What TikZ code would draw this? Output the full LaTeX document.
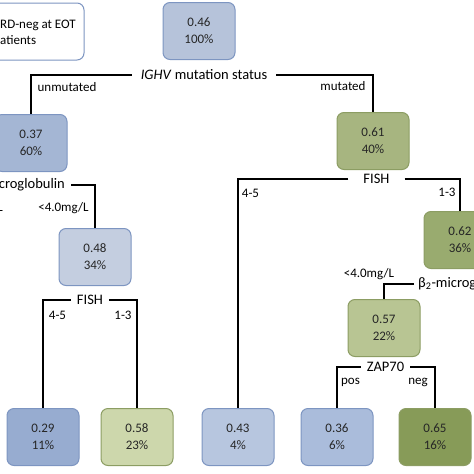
\documentclass[tikz,border=0pt]{standalone}
\usepackage{fontspec}
\setmainfont{Carlito}
\usetikzlibrary{positioning}
\definecolor{treeblue}{HTML}{7D95C1}
\definecolor{treegreen}{HTML}{8C9D63}
\definecolor{bluefa}{HTML}{B6C3DA}
\definecolor{bluefb}{HTML}{A4B6D4}
\definecolor{bluefc}{HTML}{C4CEE0}
\definecolor{bluefd}{HTML}{97ACD0}
\definecolor{bluefe}{HTML}{B7C6DF}
\definecolor{blueff}{HTML}{AABCDB}
\definecolor{greenfa}{HTML}{A7B580}
\definecolor{greenfb}{HTML}{99AB6F}
\definecolor{greenfc}{HTML}{B8C593}
\definecolor{greenfd}{HTML}{CDD7AC}
\definecolor{greenfe}{HTML}{879B58}

\begin{document}
\begin{tikzpicture}[
    x=1pt, y=-1pt,
    leaf/.style={rectangle, rounded corners=7pt, minimum width=72pt,
                 minimum height=57pt, align=center, text=black!85,
                 font=\fontsize{13}{17}\selectfont, line width=1pt, draw},
    split/.style={font=\fontsize{14.5}{17}\selectfont, inner xsep=6pt,
                  inner ysep=2pt},
    lbl/.style={font=\fontsize{13}{15}\selectfont, inner sep=0pt},
    branch/.style={line width=2.8pt}
  ]

  % ---- Frame ----
  \useasboundingbox (0,0) rectangle (474,474);
  \clip (0,0) rectangle (474,474);

  % ---- Legend (cut at the left edge) ----
  \node[rectangle, rounded corners=7pt, draw=treeblue, fill=white,
        line width=1pt, minimum width=144pt, minimum height=57pt]
    (legend) at (12,31.5) {};
  \node[anchor=west, align=left, inner sep=0pt,
        font=\fontsize{13}{16}\selectfont] (legendtxt) at (0,32)
    {RD-neg at EOT\\atients};

  % ---- Root ----
  \node[leaf, fill=bluefa, draw=treeblue] (n046) at (199,31) {0.46\\100\%};
  \node[split, inner xsep=9pt] (ighv) at (204,75)
    {\textit{IGHV} mutation status};

  % ---- Unmutated side ----
  \node[leaf, fill=bluefb, draw=treeblue] (n037) at (31,143) {0.37\\60\%};
  \node[split, anchor=east] (b2l) at (71,185)
    {β\textsubscript{2}-microglobulin};
  \node[lbl, anchor=east] (geq) at (3,208) {≥4.0mg/L};
  \node[leaf, fill=bluefc, draw=treeblue] (n048) at (95,257) {0.48\\34\%};
  \node[split] (fishl) at (90,300) {FISH};
  \node[leaf, fill=bluefd, draw=treeblue] (n029) at (43,437) {0.29\\11\%};
  \node[leaf, fill=greenfd, draw=treegreen] (n058) at (137,437) {0.58\\23\%};

  % ---- Mutated side ----
  \node[leaf, fill=greenfa, draw=treegreen] (n061) at (373,141) {0.61\\40\%};
  \node[split, inner xsep=15pt] (fishr) at (376.5,179) {FISH};
  \node[leaf, fill=bluefe, draw=treeblue] (n043) at (238,437) {0.43\\4\%};
  \node[leaf, fill=greenfb, draw=treegreen] (n062) at (460,240) {0.62\\36\%};
  \node[split, anchor=west, inner xsep=4pt] (b2r) at (414,284)
    {β\textsubscript{2}-microglobulin};
  \node[leaf, fill=greenfc, draw=treegreen] (n057) at (384,328) {0.57\\22\%};
  \node[split] (zap) at (385.5,367) {ZAP70};
  \node[leaf, fill=blueff, draw=treeblue] (n036) at (337,437) {0.36\\6\%};
  \node[leaf, fill=greenfe, draw=treegreen] (n065) at (435,437) {0.65\\16\%};

  % ---- Branch labels ----
  \node[lbl] (lunmut) at (67,87) {unmutated};
  \node[lbl] (lmut) at (343,86) {mutated};
  \node[lbl] (llow1) at (63.5,208) {<4.0mg/L};
  \node[lbl] (l45a) at (57.5,315) {4-5};
  \node[lbl] (l13a) at (123,315) {1-3};
  \node[lbl] (l45b) at (250.5,193) {4-5};
  \node[lbl] (l13b) at (447,192) {1-3};
  \node[lbl] (llow2) at (369,274) {<4.0mg/L};
  \node[lbl] (lpos) at (350.5,382) {pos};
  \node[lbl] (lneg) at (418,382) {neg};

  % ---- Elbow connectors ----
  \draw[branch] (ighv.west) -| (n037.north);
  \draw[branch] (ighv.east) -| (n061.north);
  \draw[branch] (b2l.east) -| (n048.north);
  \draw[branch] (fishl.west) -| (n029.north);
  \draw[branch] (fishl.east) -| (n058.north);
  \draw[branch] (fishr.west) -| (n043.north);
  \draw[branch] (fishr.east) -| (n062.north);
  \draw[branch] (b2r.west) -| (n057.north);
  \draw[branch] (zap.west) -| (n036.north);
  \draw[branch] (zap.east) -| (n065.north);

\end{tikzpicture}
\end{document}
